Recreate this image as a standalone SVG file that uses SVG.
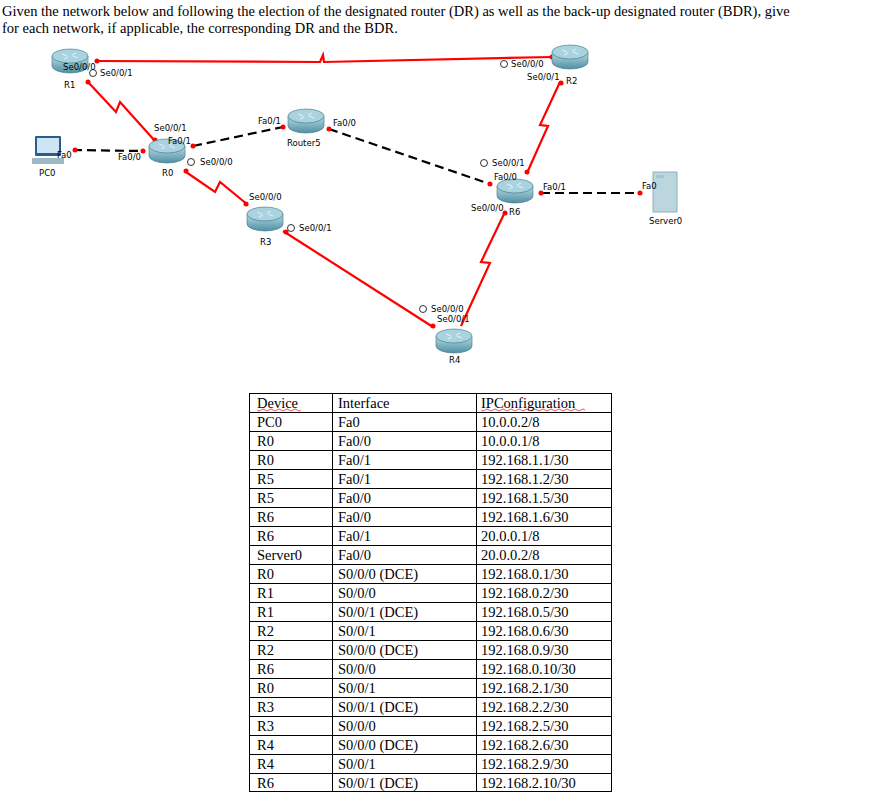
<svg xmlns="http://www.w3.org/2000/svg" width="874" height="799" viewBox="0 0 874 799">
<defs>
<linearGradient id="rg" x1="0" y1="0" x2="0" y2="1"><stop offset="0" stop-color="#b9dbe6"/><stop offset="1" stop-color="#4f8fa3"/></linearGradient>
<g id="router">
<path d="M-18,-4 v10 a18,7 0 0 0 36,0 v-10 z" fill="url(#rg)" stroke="#3d7284" stroke-width="0.6"/>
<ellipse cx="0" cy="-4" rx="18" ry="7" fill="#a9d3df" stroke="#3d7284" stroke-width="0.6"/>
<path d="M-8,-6 l5,2 M8,-2 l-5,-2 M-6,-1 l4,-2 M6,-7 l-4,2" stroke="#eef" stroke-width="1"/>
</g>
</defs>
<style>
.t{font-family:"Liberation Serif",serif;font-size:14.5px;fill:#000}
.l{font-family:"DejaVu Sans",sans-serif;font-size:8.5px;fill:#000}
.s{fill:none;stroke:#f00;stroke-width:2.2}
.e{fill:none;stroke:#000;stroke-width:2.2;stroke-dasharray:9,5}
.d{fill:#f00}
.g{fill:none;stroke:#000;stroke-width:0.8}
.cell{font-family:"Liberation Serif",serif;font-size:14.5px;fill:#000}
</style>
<rect width="874" height="799" fill="#fff"/>
<text class="t" x="2" y="16">Given the network below and following the election of the designated router (DR) as well as the back-up designated router (BDR), give</text>
<text class="t" x="2" y="33">for each network, if applicable, the corresponding DR and the BDR.</text>
<g id="connectors">
<polyline class="s" points="97,61 320,62 323,55 324,62 552,57"/>
<polyline class="s" points="88,82 116,112 120,102 155,141"/>
<polyline class="s" points="186,172 215,192 220,182 248,205"/>
<polyline class="s" points="283,231 433,327"/>
<polyline class="s" points="560,82 540,125 548,126 527,173"/>
<polyline class="s" points="505,212 481,262 490,263 461,326"/>
<line class="e" x1="73" y1="150" x2="143" y2="151"/>
<line class="e" x1="193" y1="146" x2="283" y2="127"/>
<line class="e" x1="329" y1="129" x2="490" y2="184"/>
<line class="e" x1="541" y1="193" x2="640" y2="193"/>
<circle class="d" cx="97" cy="61" r="2.5"/><circle class="d" cx="552" cy="57" r="2.5"/>
<circle class="d" cx="88" cy="82" r="2.5"/><circle class="d" cx="155" cy="140" r="2.5"/>
<circle class="d" cx="186" cy="171" r="2.5"/><circle class="d" cx="246" cy="204" r="2.5"/>
<circle class="d" cx="286" cy="232" r="2.5"/><circle class="d" cx="433" cy="326" r="2.5"/>
<circle class="d" cx="561" cy="83" r="2.5"/><circle class="d" cx="527" cy="172" r="2.5"/>
<circle class="d" cx="505" cy="213" r="2.5"/><circle class="d" cx="75" cy="150" r="2.5"/>
<circle class="d" cx="143" cy="151" r="2.5"/><circle class="d" cx="193" cy="146" r="2.5"/>
<circle class="d" cx="283" cy="127" r="2.5"/><circle class="d" cx="329" cy="129" r="2.5"/>
<circle class="d" cx="490" cy="184" r="2.5"/><circle class="d" cx="541" cy="193" r="2.5"/>
<circle class="d" cx="640" cy="193" r="2.5"/>
</g>
<g id="R1"><use href="#router" x="70" y="60"/><text class="l" x="63" y="70">Se0/0/0</text><circle class="g" cx="93" cy="73" r="3.5"/><text class="l" x="100" y="76">Se0/0/1</text><text class="l" x="64" y="88">R1</text></g>
<g id="R2"><use href="#router" x="570" y="56"/><circle class="g" cx="504" cy="64" r="3.5"/><text class="l" x="511" y="67">Se0/0/0</text><text class="l" x="527" y="80">Se0/0/1</text><text class="l" x="566" y="84">R2</text></g>
<g id="R0"><use href="#router" x="167" y="150"/><text class="l" x="154" y="131">Se0/0/1</text><text class="l" x="168" y="144">Fa0/1</text><text class="l" x="118" y="160">Fa0/0</text><circle class="g" cx="191" cy="162" r="3.5"/><text class="l" x="200" y="165">Se0/0/0</text><text class="l" x="162" y="176">R0</text></g>
<g id="Router5"><use href="#router" x="306" y="120"/><text class="l" x="258" y="124">Fa0/1</text><text class="l" x="333" y="126">Fa0/0</text><text class="l" x="287" y="146">Router5</text></g>
<g id="R6"><use href="#router" x="515" y="190"/><circle class="g" cx="484" cy="163" r="3.5"/><text class="l" x="492" y="166">Se0/0/1</text><text class="l" x="494" y="180">Fa0/0</text><text class="l" x="543" y="190">Fa0/1</text><text class="l" x="471" y="211">Se0/0/0</text><text class="l" x="509" y="215">R6</text></g>
<g id="R3"><use href="#router" x="265" y="218"/><text class="l" x="249" y="200">Se0/0/0</text><circle class="g" cx="291" cy="228" r="3.5"/><text class="l" x="299" y="231">Se0/0/1</text><text class="l" x="260" y="245">R3</text></g>
<g id="R4"><use href="#router" x="454" y="340"/><circle class="g" cx="423" cy="309" r="3.5"/><text class="l" x="431" y="312">Se0/0/0</text><text class="l" x="437" y="322">Se0/0/1</text><text class="l" x="449" y="363">R4</text></g>
<g id="PC0"><rect x="35" y="136" width="26" height="20" fill="#2e5c8a" rx="1"/><rect x="37" y="138" width="22" height="15" fill="#cde6f5"/><rect x="32" y="158" width="32" height="6" fill="#9eb8c8"/><text class="l" x="57" y="158">Fa0</text><text class="l" x="39" y="176">PC0</text></g>
<g id="Server0"><rect x="653" y="172" width="24" height="40" fill="#bcd6df" stroke="#8fb0bc"/><rect x="656" y="175" width="8" height="3" fill="#9cc"/><text class="l" x="642" y="189">Fa0</text><text class="l" x="649" y="224">Server0</text></g>
<g id="table">
<rect x="249.5" y="393.5" width="362" height="398" fill="none" stroke="#000"/>
<line x1="332.5" y1="393" x2="332.5" y2="792" stroke="#000"/>
<line x1="476.5" y1="393" x2="476.5" y2="792" stroke="#000"/>
<g stroke="#000">
<line x1="249" x2="612" y1="412.5" y2="412.5"/><line x1="249" x2="612" y1="431.5" y2="431.5"/><line x1="249" x2="612" y1="450.5" y2="450.5"/><line x1="249" x2="612" y1="469.5" y2="469.5"/><line x1="249" x2="612" y1="488.5" y2="488.5"/><line x1="249" x2="612" y1="507.5" y2="507.5"/><line x1="249" x2="612" y1="526.5" y2="526.5"/><line x1="249" x2="612" y1="545.5" y2="545.5"/><line x1="249" x2="612" y1="564.5" y2="564.5"/><line x1="249" x2="612" y1="583.5" y2="583.5"/><line x1="249" x2="612" y1="602.5" y2="602.5"/><line x1="249" x2="612" y1="621.5" y2="621.5"/><line x1="249" x2="612" y1="640.5" y2="640.5"/><line x1="249" x2="612" y1="659.5" y2="659.5"/><line x1="249" x2="612" y1="678.5" y2="678.5"/><line x1="249" x2="612" y1="697.5" y2="697.5"/><line x1="249" x2="612" y1="716.5" y2="716.5"/><line x1="249" x2="612" y1="735.5" y2="735.5"/><line x1="249" x2="612" y1="754.5" y2="754.5"/><line x1="249" x2="612" y1="773.5" y2="773.5"/>
</g>
<path d="M257,410 q2,2 4,0 t4,0 t4,0 t4,0 t4,0 t4,0 t4,0 t4,0 t4,0 t4,0 t4,0 M481,410 q2,2 4,0 t4,0 t4,0 t4,0 t4,0 t4,0 t4,0 t4,0 t4,0 t4,0 t4,0 t4,0 t4,0 t4,0 t4,0 t4,0 t4,0 t4,0 t4,0 t4,0 t4,0 t4,0 t4,0 t4,0 t4,0 t4,0" fill="none" stroke="#e03030" stroke-width="0.8"/>
<g class="cell">
<text x="257" y="408">Device</text><text x="338" y="408">Interface</text><text x="481" y="408">IPConfiguration</text>
<text x="257" y="427">PC0</text><text x="338" y="427">Fa0</text><text x="481" y="427">10.0.0.2/8</text>
<text x="257" y="446">R0</text><text x="338" y="446">Fa0/0</text><text x="481" y="446">10.0.0.1/8</text>
<text x="257" y="465">R0</text><text x="338" y="465">Fa0/1</text><text x="481" y="465">192.168.1.1/30</text>
<text x="257" y="484">R5</text><text x="338" y="484">Fa0/1</text><text x="481" y="484">192.168.1.2/30</text>
<text x="257" y="503">R5</text><text x="338" y="503">Fa0/0</text><text x="481" y="503">192.168.1.5/30</text>
<text x="257" y="522">R6</text><text x="338" y="522">Fa0/0</text><text x="481" y="522">192.168.1.6/30</text>
<text x="257" y="541">R6</text><text x="338" y="541">Fa0/1</text><text x="481" y="541">20.0.0.1/8</text>
<text x="257" y="560">Server0</text><text x="338" y="560">Fa0/0</text><text x="481" y="560">20.0.0.2/8</text>
<text x="257" y="579">R0</text><text x="338" y="579">S0/0/0 (DCE)</text><text x="481" y="579">192.168.0.1/30</text>
<text x="257" y="598">R1</text><text x="338" y="598">S0/0/0</text><text x="481" y="598">192.168.0.2/30</text>
<text x="257" y="617">R1</text><text x="338" y="617">S0/0/1 (DCE)</text><text x="481" y="617">192.168.0.5/30</text>
<text x="257" y="636">R2</text><text x="338" y="636">S0/0/1</text><text x="481" y="636">192.168.0.6/30</text>
<text x="257" y="655">R2</text><text x="338" y="655">S0/0/0 (DCE)</text><text x="481" y="655">192.168.0.9/30</text>
<text x="257" y="674">R6</text><text x="338" y="674">S0/0/0</text><text x="481" y="674">192.168.0.10/30</text>
<text x="257" y="693">R0</text><text x="338" y="693">S0/0/1</text><text x="481" y="693">192.168.2.1/30</text>
<text x="257" y="712">R3</text><text x="338" y="712">S0/0/1 (DCE)</text><text x="481" y="712">192.168.2.2/30</text>
<text x="257" y="731">R3</text><text x="338" y="731">S0/0/0</text><text x="481" y="731">192.168.2.5/30</text>
<text x="257" y="750">R4</text><text x="338" y="750">S0/0/0 (DCE)</text><text x="481" y="750">192.168.2.6/30</text>
<text x="257" y="769">R4</text><text x="338" y="769">S0/0/1</text><text x="481" y="769">192.168.2.9/30</text>
<text x="257" y="788">R6</text><text x="338" y="788">S0/0/1 (DCE)</text><text x="481" y="788">192.168.2.10/30</text>
</g>
</g>
</svg>
